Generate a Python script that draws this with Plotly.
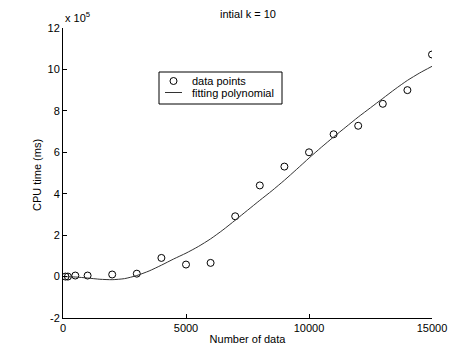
import plotly.graph_objects as go

# Data points (Number of data vs CPU time, in units of 1e5 ms)
data_x = [100, 200, 500, 1000, 2000, 3000, 4000, 5000, 6000, 7000,
          8000, 9000, 10000, 11000, 12000, 13000, 14000, 15000]
data_y = [0.0, 0.0, 0.05, 0.05, 0.1, 0.14, 0.9, 0.58, 0.66, 2.91,
          4.4, 5.31, 6.0, 6.87, 7.28, 8.34, 9.0, 10.72]

# Fitting polynomial curve
fit_x = [0, 500, 1000, 1500, 2000, 2500, 3000, 3500, 4000, 4500, 5000,
         5500, 6000, 6500, 7000, 7500, 8000, 8500, 9000, 9500, 10000,
         10500, 11000, 11500, 12000, 12500, 13000, 13500, 14000, 14500, 15000]
fit_y = [0.0, -0.02, -0.07, -0.13, -0.15, -0.1, 0.05, 0.27, 0.55, 0.85, 1.13,
         1.45, 1.82, 2.25, 2.72, 3.2, 3.68, 4.15, 4.65, 5.18, 5.72,
         6.24, 6.74, 7.22, 7.7, 8.15, 8.6, 9.05, 9.47, 9.83, 10.15]

x_ticks = [0, 5000, 10000, 15000]
y_ticks = [-2, 0, 2, 4, 6, 8, 10, 12]

legend_labels = ["data points", "fitting polynomial"]

FONT = "Liberation Sans, Arial, sans-serif"

fig = go.Figure()
fig.add_trace(go.Scatter(
    x=data_x, y=data_y, mode="markers", name=legend_labels[0],
    marker=dict(symbol="circle-open", size=7, color="black", line=dict(width=1, color="black")),
))
fig.add_trace(go.Scatter(
    x=fit_x, y=fit_y, mode="lines", name=legend_labels[1],
    line=dict(color="#333333", width=1, shape="spline", smoothing=0.6),
))

axis_common = dict(
    showline=True, linecolor="black", linewidth=1,
    ticks="inside", ticklen=4, tickcolor="black", tickwidth=1,
    showgrid=False, zeroline=False, mirror=False,
    tickfont=dict(family=FONT, size=11, color="black"),
)

# Manual MATLAB-style legend box (compact)
pw, ph = 369.0, 290.0
def px(xp):
    return (xp - 63) / pw
def py(yp):
    return (318 - yp) / ph

shapes = [
    dict(type="rect", xref="paper", yref="paper",
         x0=px(159), x1=px(282), y0=py(104), y1=py(72),
         line=dict(color="black", width=1), fillcolor="white", layer="above"),
    dict(type="circle", xref="paper", yref="paper",
         xsizemode="pixel", ysizemode="pixel",
         xanchor=px(173.5), yanchor=py(81),
         x0=-3.5, x1=3.5, y0=-3.5, y1=3.5,
         line=dict(color="black", width=1), layer="above"),
    dict(type="line", xref="paper", yref="paper",
         x0=px(165), x1=px(182), y0=py(92.5), y1=py(92.5),
         line=dict(color="#333333", width=1), layer="above"),
]

annotations = [
    dict(text="intial k = 10", x=0.5, y=1.0, xref="paper", yref="paper",
         xanchor="center", yanchor="bottom", yshift=6, showarrow=False,
         font=dict(family=FONT, size=11, color="black")),
    dict(text="x 10<sup>5</sup>", x=0.0, y=1.0, xref="paper", yref="paper",
         xanchor="left", yanchor="bottom", yshift=2, showarrow=False,
         font=dict(family=FONT, size=11, color="black")),
    dict(text=legend_labels[0], x=px(190), y=py(81), xref="paper", yref="paper",
         xanchor="left", yanchor="middle", showarrow=False,
         font=dict(family=FONT, size=11, color="black")),
    dict(text=legend_labels[1], x=px(190), y=py(93), xref="paper", yref="paper",
         xanchor="left", yanchor="middle", showarrow=False,
         font=dict(family=FONT, size=11, color="black")),
    dict(text="CPU time (ms)", x=px(37), y=py(175), xref="paper", yref="paper",
         xanchor="center", yanchor="middle", textangle=-90, showarrow=False,
         font=dict(family=FONT, size=11, color="black")),
]

fig.update_layout(
    width=474, height=355,
    margin=dict(l=63, r=42, t=28, b=37),
    paper_bgcolor="white", plot_bgcolor="white",
    font=dict(family=FONT, size=11, color="black"),
    showlegend=False,
    xaxis=dict(range=[0, 15000], tickvals=x_ticks, ticktext=[str(v) for v in x_ticks],
               title=dict(text="Number of data", font=dict(family=FONT, size=11), standoff=2),
               **axis_common),
    yaxis=dict(range=[-2, 12], tickvals=y_ticks, ticktext=[str(v) for v in y_ticks],
               **axis_common),
    shapes=shapes,
    annotations=annotations,
)

fig.write_html("out.html")
